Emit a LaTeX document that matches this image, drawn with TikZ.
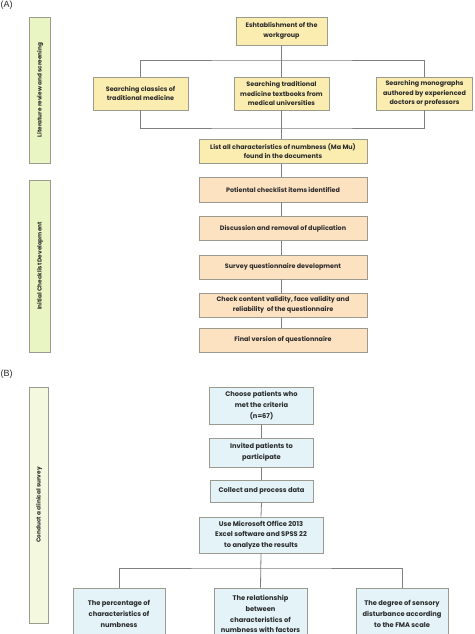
\documentclass[tikz,border=0pt]{standalone}
\usepackage{fontspec}
\setmainfont{Poppins}
\newfontfamily\labelfont{Liberation Sans}
\definecolor{boxline}{HTML}{9A9A8E}
\definecolor{connline}{HTML}{7F7F7F}
\definecolor{yelfill}{HTML}{FBEDB0}
\definecolor{peachfill}{HTML}{FDE2C2}
\definecolor{bluefill}{HTML}{E3F3F8}
\definecolor{sidefillA}{HTML}{E9F5C2}
\definecolor{sidefillB}{HTML}{F3F8DF}
\definecolor{txt}{HTML}{2A2A2A}
\tikzset{
  basebox/.style={draw=boxline, line width=0.9pt, align=center, inner sep=1pt, text=txt, font=\bfseries\fontsize{6.4}{9.7}\selectfont},
  ybox/.style={basebox, fill=yelfill},
  pbox/.style={basebox, fill=peachfill},
  bbox/.style={basebox, fill=bluefill, font=\bfseries\fontsize{6.7}{10.7}\selectfont},
  sidebar/.style={draw=boxline, line width=0.9pt, inner sep=0pt},
  sidetext/.style={rotate=90, text=txt, font=\bfseries\fontsize{5.8}{8}\selectfont},
  conn/.style={draw=connline, line width=0.8pt},
  panellabel/.style={anchor=west, inner sep=0pt, text=txt, font=\labelfont\fontsize{9}{10}\selectfont}
}
\begin{document}
\begin{tikzpicture}[x=1pt,y=-1pt]
\clip (0,0) rectangle (474,634);
\fill[white] (0,0) rectangle (474,634);

% panel labels
\node[panellabel] (labA) at (0.5,5.5) {(A)};
\node[panellabel] (labB) at (0.5,374) {(B)};

% sidebars
\node[sidebar, fill=sidefillA, minimum width=21pt, minimum height=146pt] (sb1) at (40,90) {};
\node[sidetext] (sb1t) at (40,90) {Literature review and screening};
\node[sidebar, fill=sidefillA, minimum width=21pt, minimum height=172pt] (sb2) at (40,266) {};
\node[sidetext] (sb2t) at (40,266) {Initial Checklist Development};
\node[sidebar, fill=sidefillB, minimum width=19pt, minimum height=236pt] (sb3) at (39,505) {};
\node[sidetext] (sb3t) at (39,505) {Conduct a clinical survey};

% panel A
\node[ybox, minimum width=91pt, minimum height=28pt] (est) at (281.5,31) {Eshtablishment of the\\workgroup};
\node[ybox, minimum width=95pt, minimum height=33pt] (s1) at (140.5,93.5) {Searching classics of\\traditional medicine};
\node[ybox, minimum width=95pt, minimum height=33pt] (s2) at (281.5,93.5) {Searching traditional\\medicine textbooks from\\medical universities};
\node[ybox, minimum width=96pt, minimum height=33pt] (s3) at (424.5,93.5) {Searching monographs\\authored by experienced\\doctors or professors};
\node[ybox, minimum width=168pt, minimum height=24pt] (list) at (283,151) {List all characteristics of numbness (Ma Mu)\\found in the documents};

\node[pbox, minimum width=168pt, minimum height=25pt] (p1) at (283,189.5) {Potiental checklist items identified};
\node[pbox, minimum width=168pt, minimum height=24pt] (p2) at (283,228.5) {Discussion and removal of duplication};
\node[pbox, minimum width=168pt, minimum height=24pt] (p3) at (283,267) {Survey questionnaire development};
\node[pbox, minimum width=168pt, minimum height=24pt] (p4) at (283,305) {Check content validity, face validity and\\reliability\ \ of the questionnaire};
\node[pbox, minimum width=168pt, minimum height=24pt] (p5) at (283,340) {Final version of questionnaire};

\coordinate (busA1) at (281.5,60);
\coordinate (busA2) at (281.5,128);
\draw[conn] (est.south) -- (s2.north);
\draw[conn] (s1.north) |- (busA1) -| (s3.north);
\draw[conn] (s1.south) |- (busA2) -| (s3.south);
\draw[conn] (s2.south) -- (s2.south |- list.north);
\draw[conn] (s2.south |- list.south) -- (s2.south |- p1.north);
\draw[conn] (s2.south |- p1.south) -- (s2.south |- p2.north);
\draw[conn] (s2.south |- p2.south) -- (s2.south |- p3.north);
\draw[conn] (s2.south |- p3.south) -- (s2.south |- p4.north);
\draw[conn] (s2.south |- p4.south) -- (s2.south |- p5.north);

% panel B
\node[bbox, minimum width=104pt, minimum height=37pt] (b1) at (261.5,405.5) {Choose patients who\\met the criteria\\(n=67)};
\node[bbox, minimum width=104pt, minimum height=29pt] (b2) at (261.5,452.5) {Invited patients to\\participate};
\node[bbox, minimum width=103pt, minimum height=22pt] (b3) at (261.5,491) {Collect and process data};
\node[bbox, minimum width=124pt, minimum height=36pt] (b4) at (261,535) {Use Microsoft Office 2013\\Excel software and SPSS 22\\to analyze the results};
\node[bbox, minimum width=92pt, minimum height=52pt] (c1) at (119,614) {The percentage of\\characteristics of\\numbness};
\node[bbox, minimum width=93pt, minimum height=52pt] (c2) at (260.5,614) {The relationship\\between\\characteristics of\\numbness with factors};
\node[bbox, minimum width=92pt, minimum height=52pt] (c3) at (402,614) {The degree of sensory\\disturbance according\\to the FMA scale};

\coordinate (busB) at (262,568);
\draw[conn] (b1.south) -- (b2.north);
\draw[conn] (b2.south) -- (b3.north);
\draw[conn] (b3.south) -- (b4.north);
\draw[conn] (b4.south) -- (c2.north);
\draw[conn] (c1.north) |- (busB) -| (c3.north);
\end{tikzpicture}
\end{document}
